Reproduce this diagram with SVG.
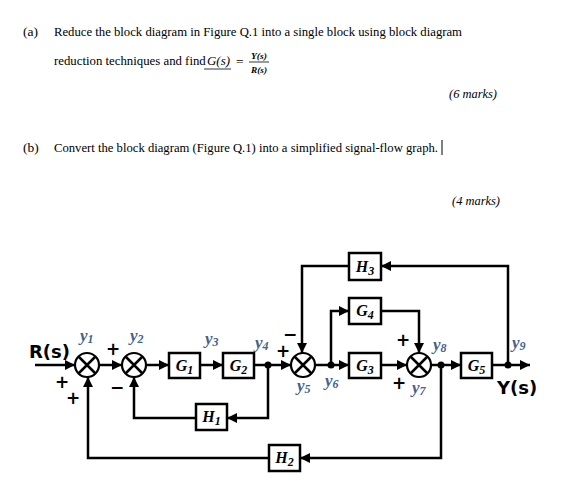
<svg xmlns="http://www.w3.org/2000/svg" width="563" height="494" viewBox="0 0 563 494">
<defs>
<marker id="ah" viewBox="0 0 10 10" refX="10" refY="5" markerWidth="10" markerHeight="10" markerUnits="userSpaceOnUse" orient="auto">
<path d="M0,0 L10,5 L0,10 z" fill="#000"/>
</marker>
<style>
.q{font-family:"Liberation Serif",serif;font-size:13.5px;fill:#000}
.qi{font-family:"Liberation Serif",serif;font-size:13.5px;font-style:italic;fill:#000}
.fr{font-family:"Liberation Serif",serif;font-size:8px;font-style:italic;font-weight:bold;fill:#000}
.w{fill:none;stroke:#000;stroke-width:2.5}
.wa{fill:none;stroke:#000;stroke-width:2.5;marker-end:url(#ah)}
.box{fill:#fff;stroke:#000;stroke-width:2.5}
.bl{font-family:"Liberation Serif",serif;font-size:16px;font-weight:bold;font-style:italic;fill:#000;text-anchor:middle}
.yl{font-family:"Liberation Serif",serif;font-size:17px;font-weight:bold;font-style:italic;fill:#44628c}
.sg{font-family:"DejaVu Sans",sans-serif;font-size:17px;font-weight:bold;fill:#000;text-anchor:middle}
.io{font-family:"DejaVu Sans",sans-serif;font-size:18px;font-weight:bold;fill:#000}
.sum{fill:#fff;stroke:#000;stroke-width:2.2}
</style>
</defs>
<rect width="563" height="494" fill="#fff"/>
<g id="question">
<text class="q" x="23" y="36">(a)</text>
<text class="q" x="54" y="36" textLength="408" lengthAdjust="spacingAndGlyphs">Reduce the block diagram in Figure Q.1 into a single block using block diagram</text>
<text class="q" x="54" y="65" style="font-size:12.8px">reduction techniques and find</text>
<text class="qi" x="207" y="65" textLength="23" lengthAdjust="spacingAndGlyphs">G(s)</text>
<line x1="204" y1="69" x2="231" y2="69" stroke="#000" stroke-width="0.8"/>
<text class="q" x="236" y="66">=</text>
<text class="fr" x="251" y="59" textLength="16" lengthAdjust="spacingAndGlyphs">Y(s)</text>
<line x1="249" y1="62" x2="269" y2="62" stroke="#000" stroke-width="0.8"/>
<text class="fr" x="251" y="73" textLength="16" lengthAdjust="spacingAndGlyphs">R(s)</text>
<text class="qi" x="449" y="98" textLength="48" lengthAdjust="spacingAndGlyphs">(6 marks)</text>
<text class="q" x="23" y="152">(b)</text>
<text class="q" x="54" y="152" textLength="384" lengthAdjust="spacingAndGlyphs">Convert the block diagram (Figure Q.1) into a simplified signal-flow graph.</text>
<line x1="442" y1="140" x2="442" y2="155" stroke="#000" stroke-width="1"/>
<text class="qi" x="452" y="205" textLength="48" lengthAdjust="spacingAndGlyphs">(4 marks)</text>
</g>
<g id="connectors">
<line class="wa" x1="35" y1="365" x2="75" y2="365"/>
<line class="wa" x1="99" y1="365" x2="122" y2="365"/>
<line class="wa" x1="146" y1="365" x2="169" y2="365"/>
<line class="wa" x1="200" y1="365" x2="223" y2="365"/>
<line class="wa" x1="254" y1="365" x2="291" y2="365"/>
<line class="wa" x1="315" y1="365" x2="349" y2="365"/>
<polyline class="wa" points="331,365 331,311 349,311"/>
<line class="wa" x1="381" y1="365" x2="407" y2="365"/>
<polyline class="wa" points="381,311 419,311 419,353"/>
<line class="wa" x1="431" y1="365" x2="461" y2="365"/>
<line class="wa" x1="492" y1="365" x2="530" y2="365"/>
<polyline class="wa" points="508,365 508,266 381,266"/>
<polyline class="wa" points="349,266 302,266 302,353"/>
<polyline class="wa" points="268,365 268,418 227,418"/>
<polyline class="wa" points="196,418 134,418 134,377"/>
<polyline class="wa" points="441,365 441,458 300,458"/>
<polyline class="wa" points="269,458 88,458 88,377"/>
<circle cx="268" cy="365" r="3.5" fill="#000"/>
<circle cx="331" cy="365" r="3.5" fill="#000"/>
<circle cx="441" cy="365" r="3.5" fill="#000"/>
<circle cx="508" cy="365" r="3.5" fill="#000"/>
</g>
<g id="sum1">
<circle class="sum" cx="87" cy="365" r="12"/>
<path class="w" stroke-width="2" d="M78.5,356.5 L95.5,373.5 M95.5,356.5 L78.5,373.5"/>
</g>
<g id="sum2">
<circle class="sum" cx="134" cy="365" r="12"/>
<path class="w" stroke-width="2" d="M125.5,356.5 L142.5,373.5 M142.5,356.5 L125.5,373.5"/>
</g>
<g id="sum3">
<circle class="sum" cx="303" cy="365" r="12"/>
<path class="w" stroke-width="2" d="M294.5,356.5 L311.5,373.5 M311.5,356.5 L294.5,373.5"/>
</g>
<g id="sum4">
<circle class="sum" cx="419" cy="365" r="12"/>
<path class="w" stroke-width="2" d="M410.5,356.5 L427.5,373.5 M427.5,356.5 L410.5,373.5"/>
</g>
<g id="G1"><rect class="box" x="169" y="353" width="31" height="25"/><text class="bl" x="184.5" y="371">G<tspan font-size="12" dy="3">1</tspan></text></g>
<g id="G2"><rect class="box" x="223" y="353" width="31" height="25"/><text class="bl" x="238.5" y="371">G<tspan font-size="12" dy="3">2</tspan></text></g>
<g id="G3"><rect class="box" x="349" y="353" width="32" height="25"/><text class="bl" x="365" y="371">G<tspan font-size="12" dy="3">3</tspan></text></g>
<g id="G4"><rect class="box" x="349" y="298" width="32" height="26"/><text class="bl" x="365" y="316">G<tspan font-size="12" dy="3">4</tspan></text></g>
<g id="G5"><rect class="box" x="461" y="353" width="31" height="25"/><text class="bl" x="476.5" y="371">G<tspan font-size="12" dy="3">5</tspan></text></g>
<g id="H1"><rect class="box" x="196" y="404" width="31" height="26"/><text class="bl" x="211.5" y="422">H<tspan font-size="12" dy="3">1</tspan></text></g>
<g id="H2"><rect class="box" x="269" y="445" width="31" height="26"/><text class="bl" x="284.5" y="463">H<tspan font-size="12" dy="3">2</tspan></text></g>
<g id="H3"><rect class="box" x="349" y="253" width="32" height="27"/><text class="bl" x="365" y="272">H<tspan font-size="12" dy="3">3</tspan></text></g>
<g id="labels">
<text class="io" x="29" y="358">R(s)</text>
<text class="io" x="497" y="394">Y(s)</text>
<text class="yl" x="80" y="341">y<tspan font-size="12" dy="2">1</tspan></text>
<text class="yl" x="130" y="341">y<tspan font-size="12" dy="2">2</tspan></text>
<text class="yl" x="205" y="344">y<tspan font-size="12" dy="2">3</tspan></text>
<text class="yl" x="255" y="348">y<tspan font-size="12" dy="2">4</tspan></text>
<text class="yl" x="297" y="391">y<tspan font-size="12" dy="2">5</tspan></text>
<text class="yl" x="325" y="386">y<tspan font-size="12" dy="2">6</tspan></text>
<text class="yl" x="412" y="393">y<tspan font-size="12" dy="2">7</tspan></text>
<text class="yl" x="433" y="350">y<tspan font-size="12" dy="2">8</tspan></text>
<text class="yl" x="512" y="348">y<tspan font-size="12" dy="2">9</tspan></text>
<text class="sg" x="113" y="355">+</text>
<text class="sg" x="62" y="388">+</text>
<text class="sg" x="73" y="404">+</text>
<text class="sg" x="117" y="393">−</text>
<text class="sg" x="283" y="357">+</text>
<text class="sg" x="290" y="340">−</text>
<text class="sg" x="403" y="346">+</text>
<text class="sg" x="399" y="389">+</text>
</g>
</svg>
